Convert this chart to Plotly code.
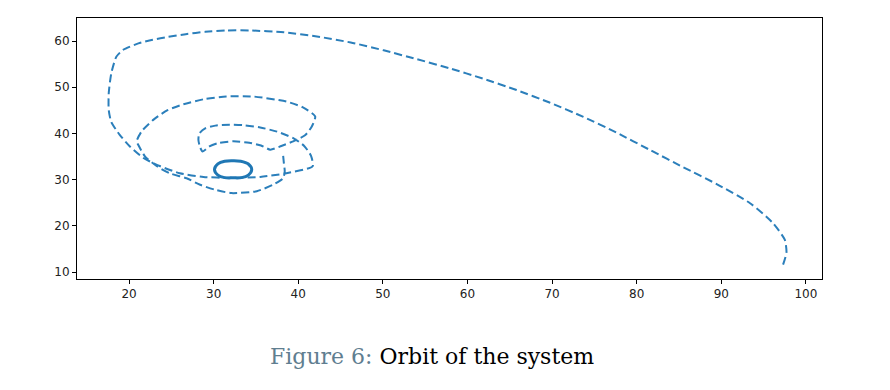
import plotly.graph_objects as go

# --- data (orbit of the system) ---
# chain A: outer loop, flat bottom, inner small loops
outer_x = [97.3, 97.7, 97.5, 96.1, 93.4, 89.5, 85.5, 81.6, 77.6, 73.7, 69.7, 65.8, 61.8, 57.9, 54.0,
           50.1, 46.2, 42.2, 38.3, 34.3, 31.5, 29.0, 26.7, 24.6, 22.8, 21.1, 19.3, 18.5, 17.9, 17.6,
           17.6, 17.9, 18.9, 20.1, 21.7, 23.7, 26.0, 28.8, 31.9, 35.5, 38.6, 41.7]
outer_y = [11.6, 14.2, 17.0, 20.6, 24.9, 29.0, 32.7, 36.4, 40.2, 43.6, 46.7, 49.4, 51.9, 54.1, 56.1,
           58.0, 59.7, 61.0, 61.9, 62.3, 62.3, 62.0, 61.5, 60.9, 60.3, 59.5, 58.1, 56.6, 53.0, 48.7,
           45.1, 42.5, 39.7, 37.2, 34.7, 32.9, 31.4, 30.6, 30.4, 30.6, 31.4, 32.9]
inner_x = [41.5, 40.7, 39.5, 37.5, 35.5, 33.5, 31.9, 30.2, 29.0, 28.3, 28.2, 28.4, 28.7,
           29.5, 30.5, 32.3, 34.2, 35.6, 36.7]
inner_y = [35.2, 37.3, 38.9, 40.4, 41.3, 41.8, 41.9, 41.7, 41.1, 40.0, 38.6, 37.0, 36.1,
           37.2, 37.9, 38.3, 38.0, 37.4, 36.5]
# chain B: diagonal to corner, second loop (top 48), deep bottom, vertical rise
loop2_x = [38.0, 39.4, 40.8, 41.6, 42.0, 40.5, 38.6, 34.7, 31.5, 28.8, 26.4, 24.5, 22.9, 21.5, 20.9,
           21.1, 21.9, 23.3, 24.8, 26.8, 28.4, 30.2, 32.1, 35.1, 37.0, 38.2, 38.4, 38.3, 38.2]
loop2_y = [37.3, 38.3, 39.6, 41.5, 43.7, 45.7, 46.9, 48.0, 48.0, 47.4, 46.3, 45.0, 43.0, 40.5, 38.3,
           37.5, 35.0, 32.9, 31.4, 30.3, 28.9, 27.8, 27.1, 27.5, 28.9, 30.3, 31.8, 33.6, 35.4]
# limit cycle in the centre
cycle_x = [34.5, 34.1, 33.2, 32.3, 31.3, 30.5, 30.1, 30.5, 31.3, 32.3, 33.3, 34.1, 34.5]
cycle_y = [32.2, 33.4, 34.0, 34.1, 34.0, 33.4, 32.2, 31.0, 30.45, 30.4, 30.45, 31.0, 32.2]

x_ticks = [20, 30, 40, 50, 60, 70, 80, 90, 100]
y_ticks = [10, 20, 30, 40, 50, 60]

traj_x = outer_x + inner_x + loop2_x
traj_y = outer_y + inner_y + loop2_y

COLOR = "#2b7fbb"

fig = go.Figure()
fig.add_trace(go.Scatter(x=traj_x, y=traj_y, mode="lines",
                         line=dict(color=COLOR, width=2, dash="8px,4px", shape="spline", smoothing=0.6),
                         hoverinfo="skip", showlegend=False))
fig.add_trace(go.Scatter(x=cycle_x, y=cycle_y, mode="lines",
                         line=dict(color="#1f77b4", width=3, shape="spline", smoothing=1.0),
                         hoverinfo="skip", showlegend=False))

axis_common = dict(showgrid=False, zeroline=False, showline=True, linecolor="black", linewidth=1,
                   mirror=True, ticks="outside", ticklen=4, tickcolor="black", tickwidth=1,
                   tickfont=dict(family="DejaVu Sans", size=12, color="#222222"))
fig.update_xaxes(range=[13.85, 101.9], tickvals=x_ticks, **axis_common)
fig.update_yaxes(range=[8.5, 65.0], tickvals=y_ticks, **axis_common)

fig.add_annotation(x=0.5, y=0, xref="paper", yref="paper", xanchor="center", yanchor="middle",
                   yshift=-77, xshift=-18, showarrow=False,
                   text="<span style='color:#5f7e90'>Figure 6:</span> Orbit of the system",
                   font=dict(family="DejaVu Serif, serif", size=22, color="black"))

fig.update_layout(width=890, height=390, margin=dict(l=69, r=76, t=10, b=119),
                  paper_bgcolor="white", plot_bgcolor="white")

fig.write_html("out.html")
